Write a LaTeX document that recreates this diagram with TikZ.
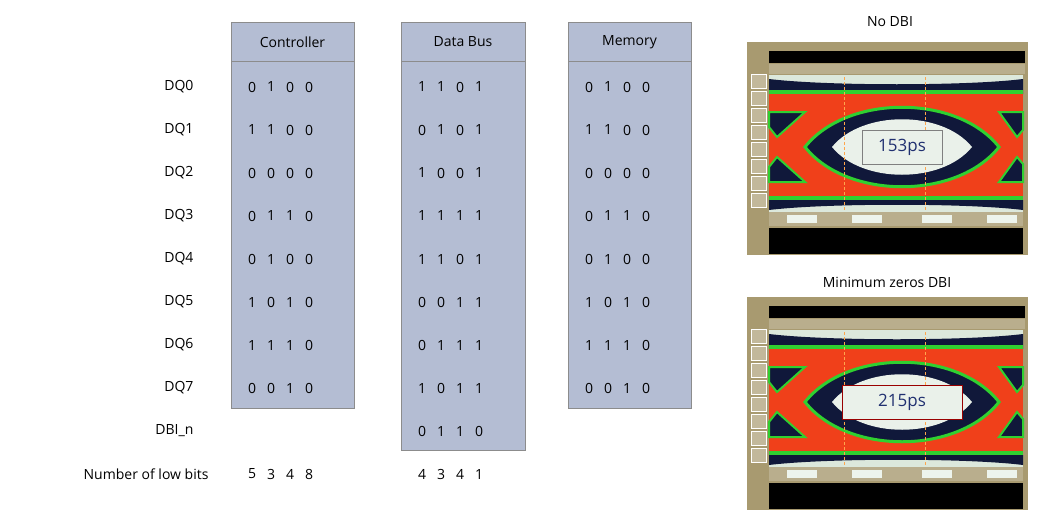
\documentclass[tikz,border=0pt]{standalone}
\usepackage{fontspec}
\setmainfont{Open Sans}
\begin{document}
\begin{tikzpicture}[x=1pt,y=-1pt,
  panel/.style={fill=boxfill,draw=black!45,line width=0.8pt},
  lbl/.style={anchor=east,font=\fontsize{14}{16}\selectfont},
  dig/.style={font=\fontsize{14}{16}\selectfont},
  ttl/.style={font=\fontsize{14}{16}\selectfont}]
\definecolor{boxfill}{HTML}{B4BDD3}
\definecolor{tan}{HTML}{A89A70}
\definecolor{plotbg}{HTML}{DCE8DC}
\definecolor{eyered}{HTML}{F0401A}
\definecolor{eyenavy}{HTML}{10183A}
\definecolor{eyegreen}{HTML}{30D030}
\definecolor{txtnavy}{HTML}{203070}
\useasboundingbox (0,0) rectangle (1052,522);
% panels
\node[panel,minimum width=123pt,minimum height=386pt,anchor=north west,inner sep=0] (ctl) at (231,22) {};
\node[panel,minimum width=124pt,minimum height=428pt,anchor=north west,inner sep=0] (bus) at (401,22) {};
\node[panel,minimum width=123pt,minimum height=386pt,anchor=north west,inner sep=0] (mem) at (568,22) {};
\draw[black!45,line width=0.8pt] (231,61) -- (354,61) (401,61) -- (525,61) (568,61) -- (691,61);
\node[ttl] (hc) at (292.5,42) {Controller};
\node[ttl] (hb) at (463,42) {Data Bus};
\node[ttl] (hm) at (629.5,42) {Memory};
% rows
\foreach \lab/\a/\b/\c/\d/\e/\f/\g/\h [count=\i from 0] in
 {DQ0/0/1/0/0/1/1/0/1,DQ1/1/1/0/0/0/1/0/1,DQ2/0/0/0/0/1/0/0/1,DQ3/0/1/1/0/1/1/1/1,
  DQ4/0/1/0/0/1/1/0/1,DQ5/1/0/1/0/0/0/1/1,DQ6/1/1/1/0/0/1/1/1,DQ7/0/0/1/0/1/0/1/1} {
  \pgfmathsetmacro\yy{87+43*\i}
  \node[lbl] (r\i) at (197,\yy) {\lab};
  \node[dig] (ca\i) at (252,\yy) {\a};
  \node[dig] (cb\i) at (271,\yy) {\b};
  \node[dig] (cc\i) at (290,\yy) {\c};
  \node[dig] (cd\i) at (309,\yy) {\d};
  \node[dig] (ba\i) at (422,\yy) {\e};
  \node[dig] (bb\i) at (441,\yy) {\f};
  \node[dig] (bc\i) at (460,\yy) {\g};
  \node[dig] (bd\i) at (479,\yy) {\h};
  \node[dig] (ma\i) at (589,\yy) {\a};
  \node[dig] (mb\i) at (608,\yy) {\b};
  \node[dig] (mc\i) at (627,\yy) {\c};
  \node[dig] (md\i) at (646,\yy) {\d};
}
\node[lbl] (rdbi) at (197,431) {DBI\_n};
\node[dig] (dbia) at (422,431) {0};
\node[dig] (dbib) at (441,431) {1};
\node[dig] (dbic) at (460,431) {1};
\node[dig] (dbid) at (479,431) {0};
\node[lbl] (rnum) at (212,474) {Number of low bits};
\node[dig] (na) at (252,474) {5};
\node[dig] (nb) at (271,474) {3};
\node[dig] (nc) at (290,474) {4};
\node[dig] (nd) at (309,474) {8};
\node[dig] (nba) at (422,474) {4};
\node[dig] (nbb) at (441,474) {3};
\node[dig] (nbc) at (460,474) {4};
\node[dig] (nbd) at (479,474) {1};
% eye diagrams
\node[ttl] (t1) at (890,22) {No DBI};
\node[ttl] (t2) at (887,282) {Minimum zeros DBI};
\foreach \yo/\txt/\bw/\bc in {42/153ps/80/black!50,297/215ps/120/red!60!black} {
\begin{scope}[shift={(747,\yo)}]
  \fill[tan] (0,0) rectangle (281,213);
  \fill[black] (22,9) rectangle (278,21);
  \fill[tan!80!white] (22,22) rectangle (278,32);
  \foreach \j in {0,...,7} \draw[white,fill=tan!70!white] (4,32+17*\j) rectangle (19,46+17*\j);
  \fill[plotbg] (22,33) rectangle (276,170);
  \fill[eyenavy] (22,37) .. controls (80,44) and (220,44) .. (276,37) -- (276,52) -- (22,52) -- cycle;
  \fill[eyegreen] (22,48) rectangle (276,52);
  \fill[eyered] (22,52) rectangle (276,154);
  \fill[eyegreen] (22,154) rectangle (276,158);
  \fill[eyenavy] (22,158) -- (276,158) -- (276,168) .. controls (220,161) and (80,161) .. (22,168) -- cycle;
  % central eye
  \draw[eyegreen,line width=3pt,fill=eyenavy] (58,105) .. controls (100,52) and (210,52) .. (252,105) .. controls (210,158) and (100,158) .. (58,105) -- cycle;
  \fill[plotbg!60!white] (85,105) .. controls (115,68) and (195,68) .. (225,105) .. controls (195,142) and (115,142) .. (85,105) -- cycle;
  % side triangles
  \draw[eyegreen,line width=2pt,fill=eyenavy] (22,70) -- (58,70) -- (30,95) -- (22,85) -- cycle;
  \draw[eyegreen,line width=2pt,fill=eyenavy] (22,140) -- (58,140) -- (30,115) -- (22,125) -- cycle;
  \draw[eyegreen,line width=2pt,fill=eyenavy] (276,70) -- (252,70) -- (270,95) -- (276,88) -- cycle;
  \draw[eyegreen,line width=2pt,fill=eyenavy] (276,140) -- (252,140) -- (270,115) -- (276,122) -- cycle;
  % grid hints
  \draw[orange!70,densely dashed,line width=0.4pt] (97,35) -- (97,168) (178,35) -- (178,168);
  \node[draw=\bc,fill=plotbg!60!white,minimum width=\bw pt,minimum height=34pt,inner sep=0,
        font=\fontsize{17}{19}\selectfont,text=txtnavy] (lb\yo) at (155,105) {\txt};
  % bottom bar
  \fill[tan!80!white] (22,170) rectangle (276,184);
  \foreach \xx in {40,105,175,240} \fill[plotbg!50!white] (\xx,173) rectangle (\xx+30,181);
  \fill[black] (22,186) rectangle (276,212);
\end{scope}
}
\end{tikzpicture}
\end{document}
